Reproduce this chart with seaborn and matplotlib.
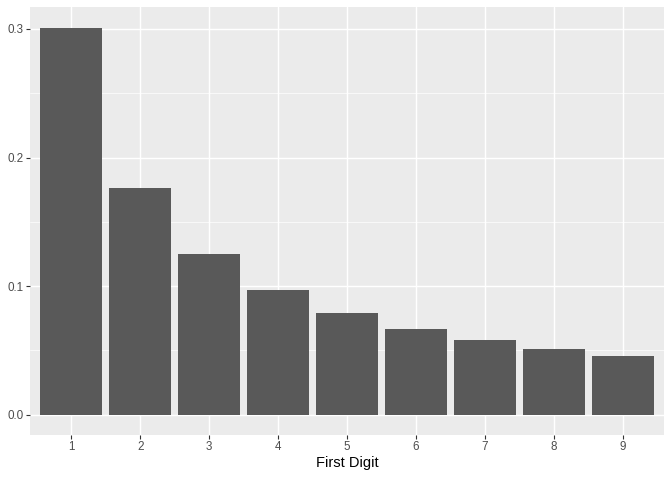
import matplotlib
matplotlib.use("Agg")
import matplotlib.pyplot as plt
import seaborn as sns
import pandas as pd
from matplotlib.ticker import MultipleLocator

# Частки першої цифри
digits = ["1", "2", "3", "4", "5", "6", "7", "8", "9"]
shares = [0.301, 0.176, 0.125, 0.097, 0.079, 0.067, 0.058, 0.051, 0.046]

df = pd.DataFrame({"digit": digits, "share": shares})

sns.set_theme(style="darkgrid", rc={
    "axes.facecolor": "#EBEBEB",
    "grid.color": "white",
    "axes.edgecolor": "none",
})
plt.rcParams["font.family"] = ["Liberation Sans", "DejaVu Sans"]

fig = plt.figure(figsize=(6.72, 4.8), dpi=100)
# панель як у ggplot: x 30..664, y 7..435 пікселів
ax = fig.add_axes([30 / 672, 1 - 435 / 480, (664 - 30) / 672, (435 - 7) / 480])

sns.barplot(data=df, x="digit", y="share", color="#595959", saturation=1,
            width=0.9, edgecolor="none", linewidth=0, ax=ax, errorbar=None)

ymax = max(shares)
ax.set_ylim(-0.0158, 0.3171)
ax.set_xlim(-0.6, len(digits) - 0.4)

ax.yaxis.set_major_locator(MultipleLocator(0.1))
ax.yaxis.set_minor_locator(MultipleLocator(0.05))
ax.grid(which="major", color="white", linewidth=1.05)
ax.grid(which="minor", axis="y", color="white", linewidth=0.5)
ax.set_axisbelow(True)

ax.set_yticks([0.0, 0.1, 0.2, 0.3])
ax.set_yticklabels(["0.0", "0.1", "0.2", "0.3"])

ax.tick_params(axis="both", which="major", length=2.6, width=0.8, color="#333333",
               labelsize=8.4, labelcolor="#4D4D4D", pad=2, bottom=True, left=True)
ax.tick_params(axis="both", which="minor", length=0)

ax.set_xlabel("First Digit", fontsize=10.5, color="black", labelpad=2)
ax.set_ylabel("")

for s in ax.spines.values():
    s.set_visible(False)

fig.savefig("out.png", dpi=100)
